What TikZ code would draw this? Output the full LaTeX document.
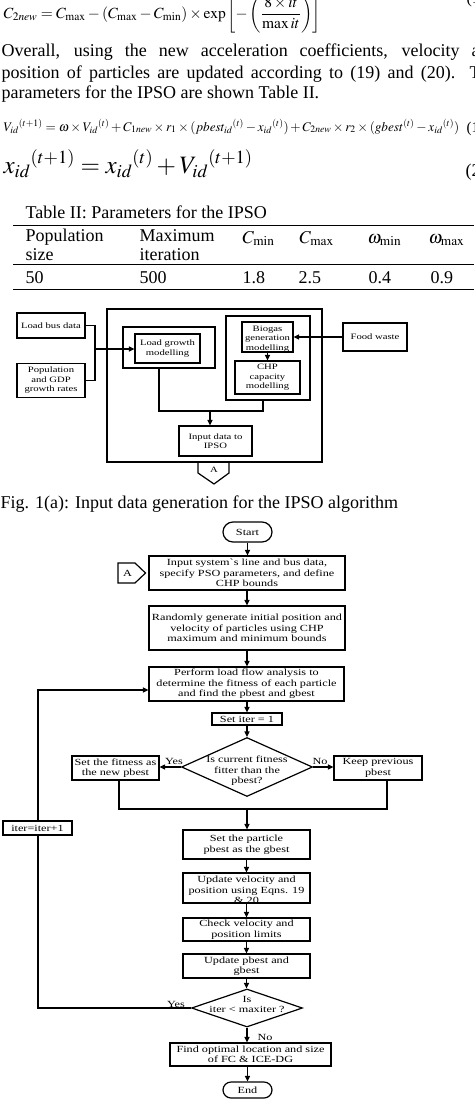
\documentclass[tikz,border=0pt]{standalone}
\usepackage{mathptmx}
\usepackage[no-math]{fontspec}
\setmainfont{Liberation Serif}
\newfontfamily\dgfam[FakeStretch=1.3]{Liberation Serif}
\newcommand\dga{\dgfam\fontsize{8.2}{9.5}\selectfont}
\newcommand\dgb{\dgfam\fontsize{9.4}{10.5}\selectfont}
\usetikzlibrary{arrows.meta,shapes.geometric,calc}
\begin{document}
\begin{tikzpicture}[x=1pt,y=-1pt,line width=1.2pt,
  arr/.style={-{Triangle[length=5.5pt,width=5pt]}},
  boxA/.style={draw,rectangle,inner sep=0pt,align=center,font=\dga},
  txtA/.style={inner sep=0pt,align=center,font=\dga},
  boxB/.style={draw,rectangle,inner sep=0pt,align=center,font=\dgb},
  txtB/.style={inner sep=0pt,align=center,font=\dgb},
  frame/.style={draw,rectangle,inner sep=0pt},
  term/.style={draw,rectangle,inner sep=0pt,font=\dgb},
  dia/.style={draw,diamond,inner sep=0pt},
  rule/.style={line width=1pt},
  body/.style={inner sep=0pt,anchor=base west,font=\fontsize{18}{21}\selectfont}]
\useasboundingbox (0,0) rectangle (474,1100);
\clip (0,0) rectangle (474,1100);
\fill[white] (0,0) rectangle (474,1100);

% ---------- equations and text ----------
\node[inner sep=0pt,anchor=base west,font=\fontsize{15.5}{18}\selectfont] (eqa) at (3,18)
  {$C_{2new}=C_{\max}-(C_{\max}-C_{\min})\times\exp\left[-\left(\displaystyle\frac{8\times it}{\max it}\right)\right]$};
\node[inner sep=0pt,anchor=base west,font=\fontsize{16}{18}\selectfont] (eqan) at (466,4) {(18)};
\node[body] (p1) at (1,56.5) {\makebox[496pt][s]{Overall, using the new acceleration coefficients, velocity and}};
\node[body] (p2) at (1,78) {\makebox[496pt][s]{position of particles are updated according to (19) and (20). The}};
\node[body] (p3) at (1,98.5) {parameters for the IPSO are shown Table II.};
\node[inner sep=0pt,anchor=base west,font=\fontsize{13.2}{16}\selectfont] (eqb) at (3,131)
  {$V_{id}{}^{(t+1)}=\omega\times V_{id}{}^{(t)}+C_{1new}\times r_1\times(pbest_{id}{}^{(t)}-x_{id}{}^{(t)})+C_{2new}\times r_2\times(gbest^{(t)}-x_{id}{}^{(t)})$};
\node[inner sep=0pt,anchor=base west,font=\fontsize{15}{18}\selectfont] (eqbn) at (466,132) {(19)};
\node[inner sep=0pt,anchor=base west,font=\fontsize{25}{28}\selectfont] (eqc) at (3,173)
  {$x_{id}{}^{(t+1)}=x_{id}{}^{(t)}+V_{id}{}^{(t+1)}$};
\node[inner sep=0pt,anchor=base west,font=\fontsize{18}{20}\selectfont] (eqcn) at (465,176) {(20)};

% ---------- table ----------
\node[body] (tt) at (25,218) {Table II: Parameters for the IPSO};
\draw[rule] (13,225.5) -- (474,225.5);
\draw[rule] (13,264.5) -- (474,264.5);
\draw[rule] (13,289) -- (474,289);
\node[body] (h1a) at (25,241.7) {Population};
\node[body] (h1b) at (25,260.7) {size};
\node[body] (h2a) at (139,241.7) {Maximum};
\node[body] (h2b) at (139,260.7) {iteration};
\node[body] (h3) at (242,243) {$C_{\min}$};
\node[body] (h4) at (299,243) {$C_{\max}$};
\node[body] (h5) at (367,243) {$\omega_{\min}$};
\node[body] (h6) at (428,243) {$\omega_{\max}$};
\node[body] (v1) at (25,283) {50};
\node[body] (v2) at (139,283) {500};
\node[body] (v3) at (242,283) {1.8};
\node[body] (v4) at (298,283) {2.5};
\node[body] (v5) at (368,283) {0.4};
\node[body] (v6) at (430,283) {0.9};

% ---------- Fig 1(a) ----------
\node[boxA,minimum width=68,minimum height=25] (loadbus) at (51,325.5) {Load bus data};
\node[boxA,minimum width=68,minimum height=34] (popgdp) at (51,380.5) {Population\\and GDP\\growth rates};
\node[frame,minimum width=215,minimum height=153] (outerA) at (214.5,385.5) {};
\node[frame,minimum width=92,minimum height=41] (lgouter) at (169,347.5) {};
\node[boxA,minimum width=65,minimum height=29] (lginner) at (167.5,348.5) {Load growth\\modelling};
\node[frame,minimum width=84,minimum height=84] (bcouter) at (268,358) {};
\node[boxA,minimum width=51,minimum height=30] (biogas) at (267.5,337) {};
\node[txtA] (biogast) at (267.5,339) {Biogas\\generation\\modelling};
\node[boxA,minimum width=65,minimum height=33] (chp) at (267.5,377.5) {CHP\\capacity\\modelling};
\node[boxA,minimum width=64,minimum height=28] (food) at (375,337) {Food waste};
\node[boxA,minimum width=73,minimum height=30] (inputA) at (215.5,441) {Input data to\\IPSO};
\draw (198,462) -- (229,462) -- (229,473) -- (214,484) -- (198,473) -- cycle;
\node[txtA] (conA1) at (214,469.5) {A};

\coordinate (ja) at (95,349);
\draw (loadbus.east) -| (ja) |- (popgdp.east);
\draw[arr] (ja) -- (lginner.west |- ja);
\draw[arr] (food.west) -- (biogas.east);
\draw[arr] (biogas.south) -- (chp.north);
\coordinate (ma) at (159,411);
\coordinate (mb) at (263,411);
\coordinate (mc) at (210,411);
\draw (lgouter.south -| ma) -- (ma) -- (mb) -- (bcouter.south -| mb);
\draw[arr] (mc) -- (inputA.north -| mc);

\node[body] (capA) at (0,508) {Fig. 1(a): Input data generation for the IPSO algorithm};

% ---------- Fig 1(b) ----------
\node[term,rounded corners=10pt,minimum width=49,minimum height=20] (start) at (247.5,532) {Start};
\node[boxB,minimum width=196,minimum height=34] (b1) at (247,573) {Input system`s line and bus data,\\specify PSO parameters, and define\\CHP bounds};
\draw (118,563) -- (135,563) -- (145.5,573) -- (135,583) -- (118,583) -- cycle;
\node[txtB] (conA2) at (127.5,573) {A};
\node[boxB,minimum width=196,minimum height=44] (b2) at (247,628) {Randomly generate initial position and\\velocity of particles using CHP\\maximum and minimum bounds};
\node[boxB,minimum width=195,minimum height=34] (b3) at (246.5,684) {Perform load flow analysis to\\determine the fitness of each particle\\and find the pbest and gbest};
\node[boxB,minimum width=70,minimum height=12] (b4) at (247,719) {Set iter = 1};
\node[dia,minimum width=131,minimum height=59] (d1) at (247,767) {};
\node[txtB] (d1t) at (247,771) {Is current fitness\\fitter than the\\pbest?};
\node[boxB,minimum width=87,minimum height=24] (yesb) at (115.5,768) {Set the fitness as\\the new pbest};
\node[boxB,minimum width=88,minimum height=24] (nob) at (378,768) {Keep previous\\pbest};
\node[txtB] (yes1) at (174,761) {Yes};
\node[txtB] (no1) at (320,761) {No};
\node[boxB,minimum width=69,minimum height=14] (iterb) at (37.5,828) {iter=iter+1};
\node[boxB,minimum width=127,minimum height=29] (b5) at (246.5,844.5) {Set the particle\\pbest as the gbest};
\node[boxB,minimum width=127,minimum height=30] (b6) at (246.5,888) {};
\node[txtB] (b6t) at (246.5,890) {Update velocity and\\position using Eqns. 19\\\& 20};
\node[boxB,minimum width=127,minimum height=23] (b7) at (246.5,929.5) {Check velocity and\\position limits};
\node[boxB,minimum width=127,minimum height=24] (b8) at (246.5,966) {Update pbest and\\gbest};
\node[dia,minimum width=111,minimum height=38] (d2) at (247,1008) {};
\node[txtB] (d2t) at (247,1004.5) {Is\\iter < maxiter ?};
\node[txtB] (yes2) at (176,1004) {Yes};
\node[txtB] (no2) at (265,1037) {No};
\node[boxB,minimum width=161,minimum height=23] (b9) at (250.5,1054.5) {Find optimal location and size\\of FC \& ICE-DG};
\node[term,rounded corners=8pt,minimum width=49,minimum height=16] (endn) at (247.5,1090) {End};

\draw[arr] (start.south) -- (start.south |- b1.north);
\draw[arr] (b1.south) -- (b1.south |- b2.north);
\draw[arr] (b2.south) -- (b2.south |- b3.north);
\draw[arr] (b3.south -| b4.south) -- (b4.north);
\draw[arr] (b4.south) -- (d1.north);
\draw[arr] (d1.west) -- (d1.west -| yesb.east);
\draw[arr] (d1.east) -- (d1.east -| nob.west);
\coordinate (ya) at (119,809);
\coordinate (yb) at (387,809);
\coordinate (yc) at (247,809);
\draw (yesb.south -| ya) -- (ya) -- (yb) -- (nob.south -| yb);
\draw[arr] (yc) -- (yc |- b5.north);
\coordinate (la) at (38,690);
\draw[arr] (iterb.north -| la) -- (la) -- (la -| b3.west);
\coordinate (lb) at (38,1008);
\draw (d2.west) -- (lb) -- (iterb.south -| lb);
\draw[arr] (b5.south) -- (b6.north);
\draw[arr] (b6.south) -- (b7.north);
\draw[arr] (b7.south) -- (b8.north);
\draw[arr] (b8.south) -- (b8.south |- d2.north);
\draw[arr] (d2.south) -- (d2.south |- b9.north);
\draw[arr] (b9.south -| endn.north) -- (endn.north);
\end{tikzpicture}
\end{document}
